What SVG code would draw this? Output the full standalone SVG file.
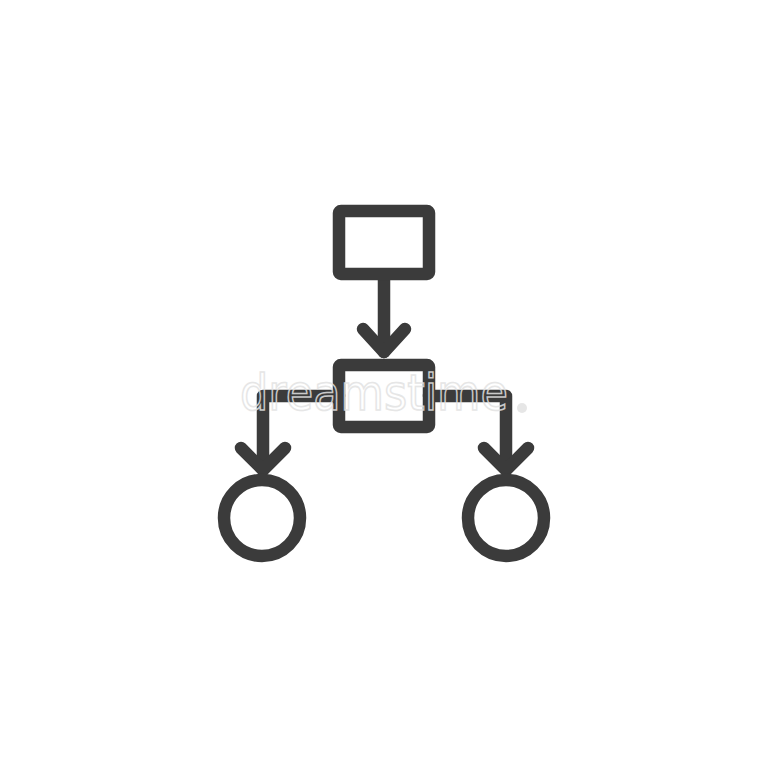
<svg xmlns="http://www.w3.org/2000/svg" width="768" height="768" viewBox="0 0 768 768">
<style>
.s{fill:none;stroke:#3b3b3b;stroke-width:12.5;stroke-linecap:round;stroke-linejoin:round}
.wm{font-family:"DejaVu Sans",sans-serif;font-size:50px;fill:none;stroke:#e2e2e2;stroke-width:1.6;opacity:0.85}
</style>
<rect width="768" height="768" fill="#fff"/>
<g id="connectors">
<path class="s" d="M384 280 V352"/>
<path class="s" d="M363 329 L384 352 L405 329"/>
<path class="s" d="M339 396 H263 V470"/>
<path class="s" d="M241 448 L263 470 L285 448"/>
<path class="s" d="M429 396 H506 V470"/>
<path class="s" d="M484 448 L506 470 L528 448"/>
</g>
<g id="top-box"><rect class="s" x="339" y="211" width="90" height="63" rx="2"/></g>
<g id="middle-box"><rect class="s" x="339" y="365" width="90" height="62" rx="2"/></g>
<g id="left-circle"><circle class="s" cx="262" cy="518" r="38"/></g>
<g id="right-circle"><circle class="s" cx="506" cy="518" r="38"/></g>
<g id="watermark"><text class="wm" x="240" y="410" textLength="268" lengthAdjust="spacingAndGlyphs">dreamstime</text><circle cx="522" cy="408" r="5" fill="#e2e2e2" opacity="0.85"/></g>
</svg>
